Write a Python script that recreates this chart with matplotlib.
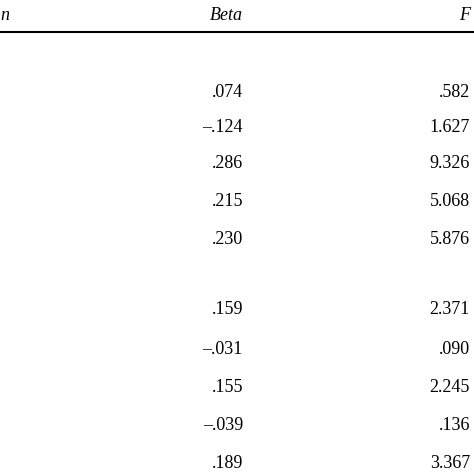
import matplotlib.pyplot as plt

# table values, top to bottom
beta = ['.074', '\u2013.124', '.286', '.215', '.230',
        '.159', '\u2013.031', '.155', '\u2013.039', '.189']
f_vals = ['.582', '1.627', '9.326', '5.068', '5.876',
          '2.371', '.090', '2.245', '.136', '3.367']
row_y = [92, 127, 164, 201, 239, 310, 350, 387, 425, 463]

plt.rcParams['font.family'] = ['Liberation Serif', 'DejaVu Serif']

fig = plt.figure(figsize=(4.74, 4.74), dpi=100)
ax = fig.add_axes([0, 0, 1, 1])
ax.set_xlim(0, 474)
ax.set_ylim(474, 0)
ax.axis('off')

fs = 13
ax.text(0, 15, 'n', style='italic', fontsize=fs, ha='left', va='center')
ax.text(243, 15, 'Beta', style='italic', fontsize=fs, ha='right', va='center')
ax.text(470, 15, 'F', style='italic', fontsize=fs, ha='right', va='center')
ax.plot([0, 474], [32, 32], color='black', lw=1.5)

for y, b, f in zip(row_y, beta, f_vals):
    ax.text(243, y, b, fontsize=fs, ha='right', va='center')
    ax.text(470, y, f, fontsize=fs, ha='right', va='center')

fig.savefig('out.png', dpi=100)
